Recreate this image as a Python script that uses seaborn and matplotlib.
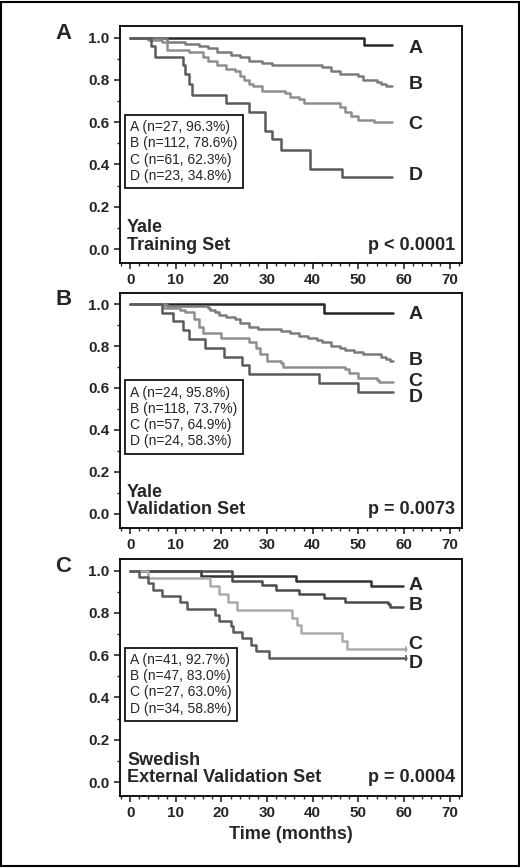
import numpy as np
import pandas as pd
import matplotlib
matplotlib.use('Agg')
import matplotlib.pyplot as plt
import seaborn as sns
from matplotlib.ticker import MultipleLocator

sns.set_style('ticks')
plt.rcParams['font.family'] = ['Liberation Sans', 'DejaVu Sans']

# Step times (months) and survival values
train_a_t = [0, 51.2, 57.4]
train_a_s = [1.0, 0.963, 0.963]
train_b_t = [0, 8, 12, 15, 17, 19, 22, 24, 26, 29, 31, 42, 44, 46, 50, 51, 54, 55, 56, 57.4]
train_b_s = [1.0, 0.98, 0.97, 0.96, 0.95, 0.93, 0.92, 0.91, 0.89, 0.88, 0.87, 0.86, 0.84, 0.83, 0.82, 0.80, 0.79, 0.78, 0.77, 0.77]
train_c_t = [0, 4, 7, 8, 13, 16, 17, 19, 21, 23, 24, 25, 26, 27, 29, 34, 35, 37, 38, 46, 47, 48.5, 50, 53.5, 57.4]
train_c_s = [1.0, 0.99, 0.98, 0.94, 0.93, 0.91, 0.89, 0.87, 0.85, 0.84, 0.82, 0.80, 0.78, 0.77, 0.75, 0.74, 0.72, 0.71, 0.69, 0.67, 0.65, 0.63, 0.61, 0.60, 0.60]
train_d_t = [0, 4.5, 5.5, 11.5, 12, 13, 13.5, 21, 26, 29.5, 31, 33, 39.5, 46.5, 57.4]
train_d_s = [1.0, 0.96, 0.91, 0.87, 0.83, 0.78, 0.73, 0.69, 0.65, 0.56, 0.52, 0.47, 0.38, 0.34, 0.34]

val_a_t = [0, 42.4, 57.7]
val_a_s = [1.0, 0.958, 0.958]
val_b_t = [0, 8, 17, 17.5, 18.5, 19.5, 21, 23, 24, 26, 28, 33, 35, 37, 39, 41, 42, 44, 46, 47, 49, 51, 55, 56, 57, 57.7]
val_b_s = [1.0, 0.99, 0.98, 0.97, 0.96, 0.95, 0.94, 0.93, 0.91, 0.89, 0.88, 0.87, 0.86, 0.85, 0.84, 0.83, 0.82, 0.80, 0.79, 0.78, 0.77, 0.76, 0.75, 0.74, 0.73, 0.73]
val_c_t = [0, 7.5, 11, 12, 14, 15, 16, 20, 26, 27.5, 28.5, 30, 33, 33.5, 47, 48, 50, 54, 54.5, 57.7]
val_c_s = [1.0, 0.98, 0.97, 0.96, 0.93, 0.89, 0.86, 0.84, 0.82, 0.79, 0.76, 0.73, 0.72, 0.70, 0.69, 0.67, 0.65, 0.64, 0.63, 0.63]
val_d_t = [0, 7, 9.5, 11.5, 13, 16.5, 20.5, 24.5, 26, 41.5, 50, 57.7]
val_d_s = [1.0, 0.958, 0.917, 0.875, 0.833, 0.792, 0.75, 0.708, 0.667, 0.625, 0.583, 0.583]

ext_a_t = [0, 15.5, 36.4, 52.7, 59.8]
ext_a_s = [1.0, 0.976, 0.951, 0.927, 0.927]
ext_b_t = [0, 22.3, 29, 32, 37, 42.5, 47, 56.5, 57, 59.8]
ext_b_s = [1.0, 0.95, 0.93, 0.91, 0.89, 0.87, 0.85, 0.84, 0.83, 0.83]
ext_c_t = [0, 4, 17.5, 19.5, 21.5, 23.5, 35.5, 36.5, 37.5, 46.5, 47.5, 60.5]
ext_c_s = [1.0, 0.963, 0.926, 0.889, 0.852, 0.815, 0.778, 0.741, 0.704, 0.667, 0.63, 0.63]
ext_d_t = [0, 2, 4, 5, 7, 11, 12.5, 18.5, 19.5, 22, 22.5, 24.5, 26.5, 27.5, 30.5, 60.5]
ext_d_s = [1.0, 0.97, 0.94, 0.91, 0.88, 0.85, 0.82, 0.79, 0.76, 0.74, 0.71, 0.68, 0.65, 0.62, 0.588, 0.588]

groups = ['A', 'B', 'C', 'D']
train_legend = ['A (n=27, 96.3%)', 'B (n=112, 78.6%)', 'C (n=61, 62.3%)', 'D (n=23, 34.8%)']
val_legend = ['A (n=24, 95.8%)', 'B (n=118, 73.7%)', 'C (n=57, 64.9%)', 'D (n=24, 58.3%)']
ext_legend = ['A (n=41, 92.7%)', 'B (n=47, 83.0%)', 'C (n=27, 63.0%)', 'D (n=34, 58.8%)']

panels = [
    dict(letter='A', title='Yale\nTraining Set', p='p < 0.0001', legend=train_legend,
         curves=[(train_a_t, train_a_s), (train_b_t, train_b_s), (train_c_t, train_c_s), (train_d_t, train_d_s)],
         colors=['#262626', '#7a7a7a', '#8e8e8e', '#5a5a5a'],
         label_y=[0.95, 0.78, 0.59, 0.35], censor=[], box_y=0.61),
    dict(letter='B', title='Yale\nValidation Set', p='p = 0.0073', legend=val_legend,
         curves=[(val_a_t, val_a_s), (val_b_t, val_b_s), (val_c_t, val_c_s), (val_d_t, val_d_s)],
         colors=['#262626', '#7a7a7a', '#8e8e8e', '#5a5a5a'],
         label_y=[0.95, 0.73, 0.63, 0.555], censor=[], box_y=0.61),
    dict(letter='C', title='Swedish\nExternal Validation Set', p='p = 0.0004', legend=ext_legend,
         curves=[(ext_a_t, ext_a_s), (ext_b_t, ext_b_s), (ext_c_t, ext_c_s), (ext_d_t, ext_d_s)],
         colors=['#333333', '#4a4a4a', '#ababab', '#5a5a5a'],
         label_y=[0.93, 0.835, 0.65, 0.56], censor=['C', 'D'], box_y=0.61),
]

fig = plt.figure(figsize=(5.2, 8.68), dpi=100)
boxes = [(0.231, 0.697, 0.658, 0.273), (0.231, 0.392, 0.658, 0.271), (0.231, 0.083, 0.658, 0.273)]

for pan, box in zip(panels, boxes):
    ax = fig.add_axes(box)
    for g, (t, s), col in zip(groups, pan['curves'], pan['colors']):
        df = pd.DataFrame({'time': t, 'surv': s})
        sns.lineplot(data=df, x='time', y='surv', ax=ax, color=col, lw=1.8,
                     drawstyle='steps-post', estimator=None, legend=False)
        if g in pan['censor']:
            ax.plot([t[-1]], [s[-1]], marker='|', color=col, ms=5, mew=1.2)
    for g, ly in zip(groups, pan['label_y']):
        ax.text(62.5, ly, g, fontsize=14, fontweight='bold', ha='center', va='center')
    ax.text(0, pan['box_y'], '\n'.join(pan['legend']), fontsize=10, va='top', ha='left',
            linespacing=1.2,
            bbox=dict(boxstyle='square,pad=0.4', fc='white', ec='black', lw=1.2))
    ax.text(0.02, 0.04, pan['title'], transform=ax.transAxes, fontsize=13,
            fontweight='bold', ha='left', va='bottom', linespacing=1.05)
    ax.text(0.98, 0.04, pan['p'], transform=ax.transAxes, fontsize=13,
            fontweight='bold', ha='right', va='bottom')
    ax.text(-0.19, 0.97, pan['letter'], transform=ax.transAxes, fontsize=16,
            fontweight='bold', ha='left', va='center')
    ax.set_xlim(-2.2, 72.8)
    ax.set_ylim(-0.066, 1.055)
    ax.xaxis.set_major_locator(MultipleLocator(10))
    ax.xaxis.set_minor_locator(MultipleLocator(2))
    ax.yaxis.set_major_locator(MultipleLocator(0.2))
    ax.yaxis.set_minor_locator(MultipleLocator(0.1))
    ax.set_yticks(np.arange(0, 1.01, 0.2))
    ax.set_yticklabels([f'{v:.1f}' for v in np.arange(0, 1.01, 0.2)])
    ax.tick_params(which='major', length=4, width=1.2, labelsize=11, direction='out')
    ax.tick_params(which='minor', length=2, width=1)
    for lab in ax.get_xticklabels() + ax.get_yticklabels():
        lab.set_fontweight('bold')
    for sp in ax.spines.values():
        sp.set_linewidth(1.3)
        sp.set_color('black')
    ax.set_xlabel('')
    ax.set_ylabel('')

ax.set_xlabel('Time (months)', fontsize=13, fontweight='bold', labelpad=4)

# outer frame around the whole figure
fig.patches.append(plt.Rectangle((0.002, 0.002), 0.996, 0.996, transform=fig.transFigure,
                                 fill=False, ec='black', lw=1.5))
fig.savefig('out.png', dpi=100)
